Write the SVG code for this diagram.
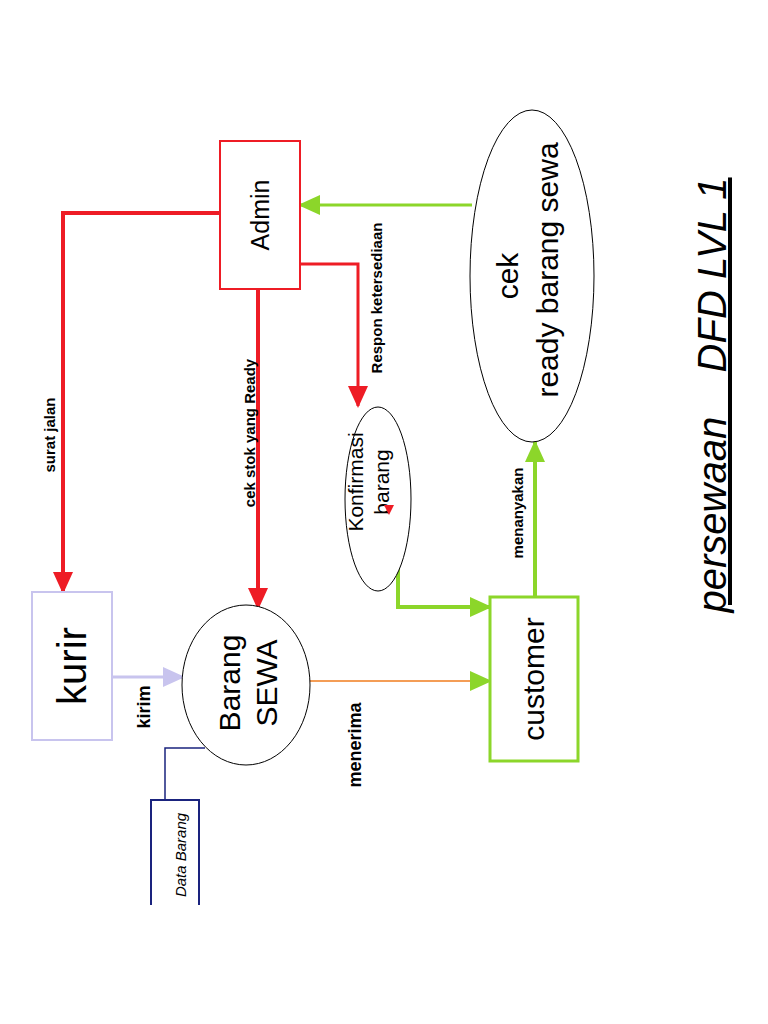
<svg xmlns="http://www.w3.org/2000/svg" width="768" height="1024" viewBox="0 0 768 1024">
<style>
text{font-family:"Liberation Sans",Arial,sans-serif;text-anchor:middle;fill:#000;stroke:none}
.lbl{font-size:15px;font-weight:bold}
.big{font-size:18px;font-weight:bold}
</style>
<defs>
<marker id="ar" markerUnits="userSpaceOnUse" markerWidth="22" markerHeight="20" refX="20" refY="10" orient="auto"><path d="M0,0L22,10L0,20z" fill="#ee1c25"/></marker>
<marker id="ag" markerUnits="userSpaceOnUse" markerWidth="22" markerHeight="20" refX="20" refY="10" orient="auto"><path d="M0,0L22,10L0,20z" fill="#8cd62a"/></marker>
<marker id="al" markerUnits="userSpaceOnUse" markerWidth="22" markerHeight="20" refX="20" refY="10" orient="auto"><path d="M0,0L22,10L0,20z" fill="#c8c4ee"/></marker>
</defs>
<g id="connectors" fill="none">
<path d="M220,213H63V592" stroke="#ee1c25" stroke-width="4" marker-end="url(#ar)"/>
<path d="M258,289V608" stroke="#ee1c25" stroke-width="4" marker-end="url(#ar)"/>
<path d="M300,264H358V406" stroke="#ee1c25" stroke-width="3" marker-end="url(#ar)"/>
<path d="M472,205H300" stroke="#8cd62a" stroke-width="3" marker-end="url(#ag)"/>
<path d="M535,597V442" stroke="#8cd62a" stroke-width="4" marker-end="url(#ag)"/>
<path d="M398,540V607H490" stroke="#8cd62a" stroke-width="4" marker-end="url(#ag)"/>
<path d="M112,677H183" stroke="#c8c4ee" stroke-width="3" marker-end="url(#al)"/>
<path d="M310,681H490" stroke="#f07c1e" stroke-width="1.5" marker-end="url(#ag)"/>
<path d="M205,748H165V800" stroke="#1a237e" stroke-width="1.5"/>
<text class="lbl" transform="translate(55,435) rotate(-90)">surat jalan</text>
<text class="lbl" transform="translate(255,433) rotate(-90)">cek stok yang Ready</text>
<text class="lbl" transform="translate(382,298) rotate(-90)">Respon ketersediaan</text>
<text class="lbl" transform="translate(523,513) rotate(-90)">menanyakan</text>
<text class="big" transform="translate(150,707) rotate(-90)">kirim</text>
<text class="big" transform="translate(361,745) rotate(-90)">menerima</text>
</g>
<g id="admin"><rect x="220" y="141" width="80" height="148" fill="#fff" stroke="#ee1c25" stroke-width="2"/>
<text transform="translate(269,215) rotate(-90)" style="font-size:25px">Admin</text></g>
<g id="kurir"><rect x="32" y="592" width="80" height="148" fill="#fff" stroke="#c8c4ee" stroke-width="2"/>
<text transform="translate(86,666) rotate(-90)" style="font-size:40px">kurir</text></g>
<g id="customer"><rect x="490" y="597" width="88" height="164" fill="#fff" stroke="#8cd62a" stroke-width="3"/>
<text transform="translate(544,679) rotate(-90)" style="font-size:30px">customer</text></g>
<g id="cek"><ellipse cx="532" cy="276" rx="62" ry="166" fill="#fff" stroke="#000" stroke-width="1"/>
<text transform="translate(518,276) rotate(-90)" style="font-size:30px">cek</text>
<text transform="translate(558,270) rotate(-90)" style="font-size:30px">ready barang sewa</text></g>
<g id="konfirmasi"><ellipse cx="378" cy="499" rx="33" ry="92" fill="#fff" stroke="#000" stroke-width="1"/>
<text transform="translate(363,482) rotate(-90)" style="font-size:21px">Konfirmasi</text>
<text transform="translate(389,482) rotate(-90)" style="font-size:21px">barang</text>
<path d="M384,505L394,505L389,515z" fill="#ee1c25"/></g>
<g id="barang"><ellipse cx="246" cy="685" rx="64" ry="80" fill="#fff" stroke="#000" stroke-width="1"/>
<text transform="translate(240,683) rotate(-90)" style="font-size:30px">Barang</text>
<text transform="translate(277,683) rotate(-90)" style="font-size:30px">SEWA</text></g>
<g id="databarang" fill="none" stroke="#1a237e" stroke-width="2">
<path d="M151,905V800H199V905"/>
<text transform="translate(186,855) rotate(-90)" style="font-size:15px;font-style:italic">Data Barang</text></g>
<g id="title"><text transform="translate(726,395) rotate(-90)" style="font-size:40px;font-style:italic;text-decoration:underline" xml:space="preserve">persewaan    DFD LVL 1</text></g>
</svg>
